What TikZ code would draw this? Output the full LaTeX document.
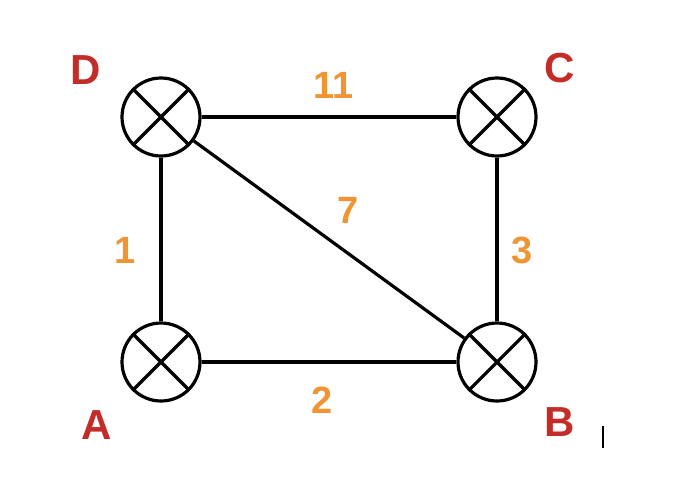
\documentclass[tikz,border=0pt]{standalone}
\usepackage{fontspec}
\setmainfont{Liberation Sans}
\definecolor{lred}{RGB}{196,44,40}
\definecolor{lorange}{RGB}{240,148,52}
\begin{document}
\begin{tikzpicture}[x=1pt,y=-1pt,
  vtx/.style={circle,draw,line width=3.2pt,minimum size=78pt,inner sep=0pt},
  edge/.style={line width=3.2pt},
  vlab/.style={text=lred,font=\fontsize{42}{42}\selectfont\bfseries},
  wlab/.style={text=lorange,font=\fontsize{38}{38}\selectfont\bfseries}]
\useasboundingbox (0,0) rectangle (696,480);
\foreach \n/\x/\y in {D/161/117,C/497/117,A/161/362,B/497/362}{
  \node[vtx] (\n) at (\x,\y) {};
  \draw[edge] (\n.north west) -- (\n.south east);
  \draw[edge] (\n.north east) -- (\n.south west);
}
\draw[edge] (D) -- (C);
\draw[edge] (D) -- (A);
\draw[edge] (A) -- (B);
\draw[edge] (C) -- (B);
\draw[edge] (D) -- (B);
\node[vlab] (lD) at (86,70) {D};
\node[vlab] (lC) at (560,68) {C};
\node[vlab] (lA) at (97,425) {A};
\node[vlab] (lB) at (560,422) {B};
\node[wlab] (w11) at (334,85) {11};
\node[wlab] (w7) at (348,210) {7};
\node[wlab] (w1) at (125,250) {1};
\node[wlab] (w3) at (522,250) {3};
\node[wlab] (w2) at (322,400) {2};
\coordinate (c1) at (603,426);
\coordinate (c2) at (603,448);
\draw[line width=1.8pt] (c1) -- (c2);
\end{tikzpicture}
\end{document}
